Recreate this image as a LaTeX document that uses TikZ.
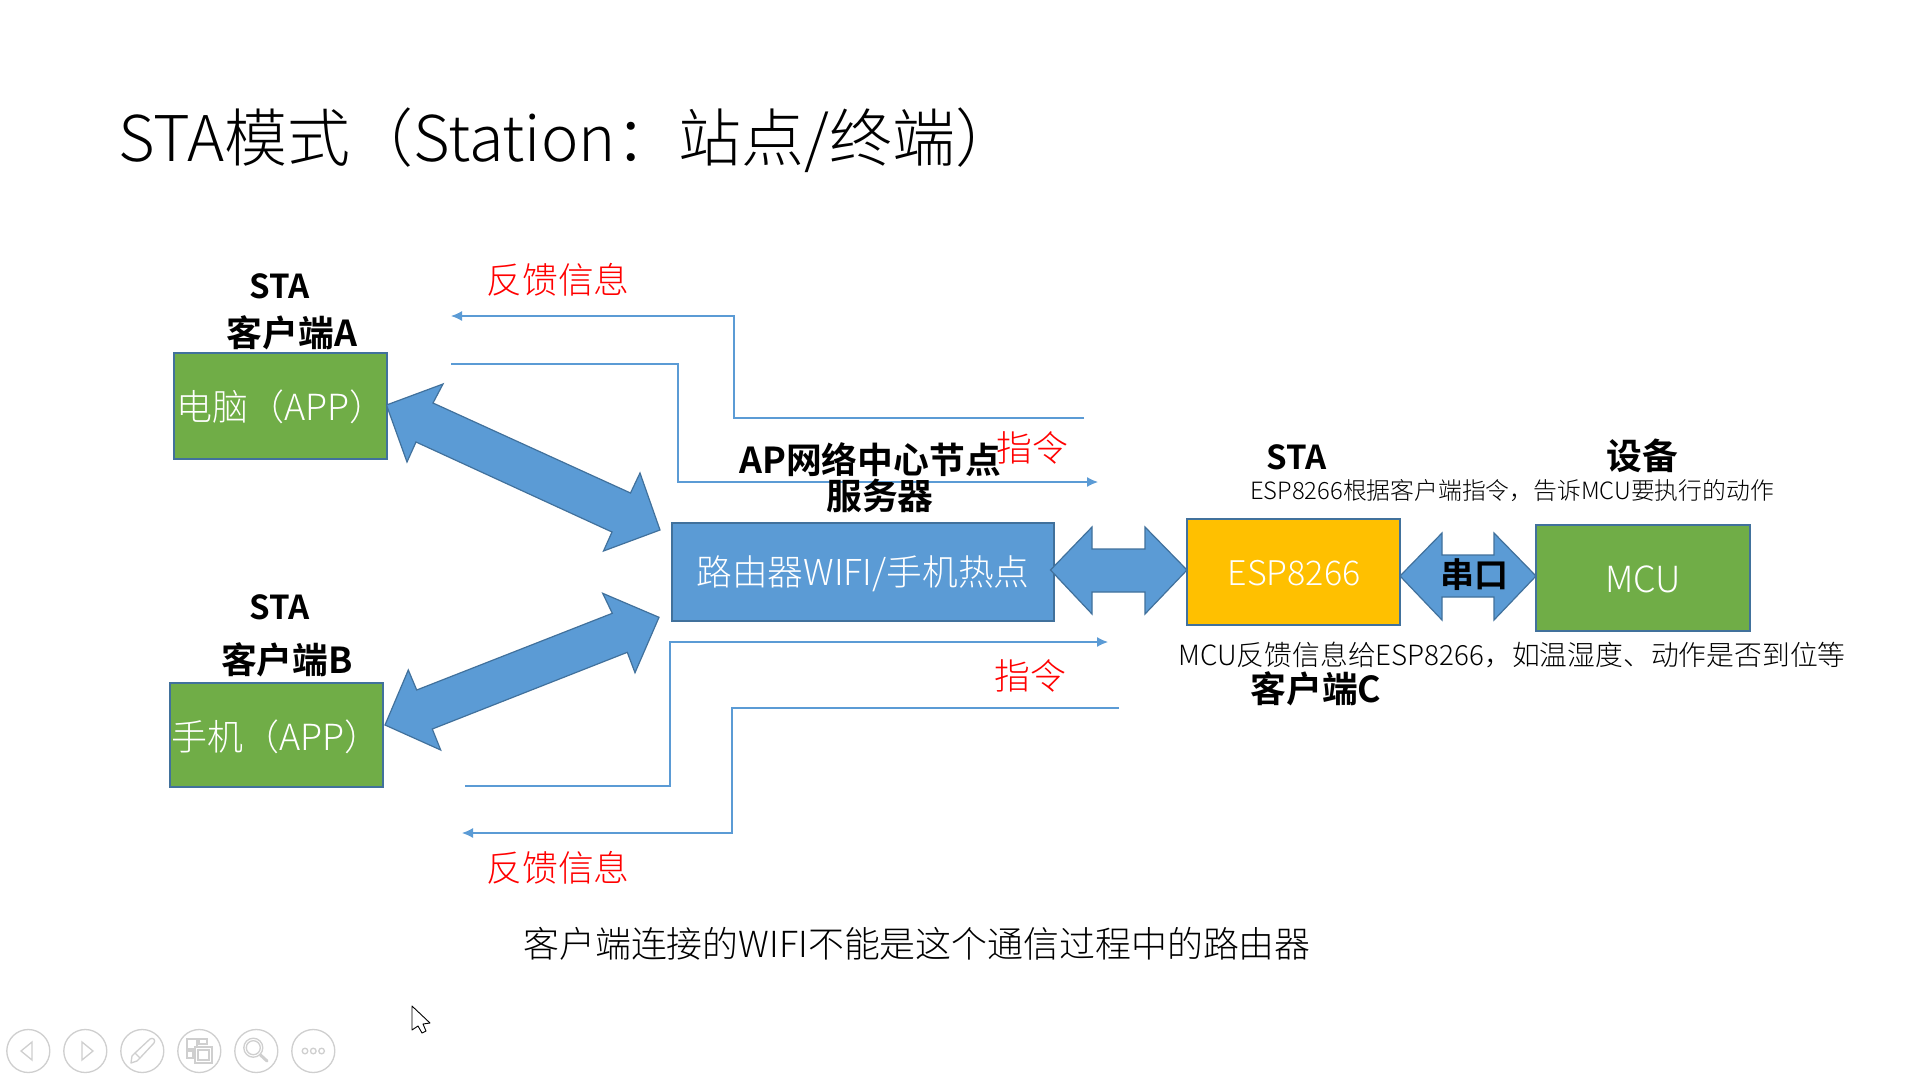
\documentclass[tikz,border=0pt]{standalone}
\usepackage{fontspec}
\setmainfont{Noto Sans CJK SC Light}[BoldFont=Noto Sans CJK SC Bold]
\usetikzlibrary{arrows.meta}
\definecolor{blu}{HTML}{5B9BD5}
\definecolor{edgeblu}{HTML}{41719C}
\definecolor{grn}{HTML}{70AD47}
\definecolor{org}{HTML}{FFC000}
\definecolor{tbar}{HTML}{CFCFCF}
\newcommand{\fs}[1]{\fontsize{#1}{#1}\selectfont}
\tikzset{
 box/.style={draw=edgeblu,line width=2.4pt,inner sep=0pt},
 boxtext/.style={inner sep=0pt,text=white,font=\fs{36}},
 lab/.style={inner sep=0pt,font=\fs{35.8}\bfseries},
 redlab/.style={inner sep=0pt,text=red,font=\fs{35.8}},
 flow/.style={draw=blu,line width=1.3pt},
 flowa/.style={flow,-{Latex[length=11pt,width=10pt]}},
 bigarrow/.style={fill=blu,draw=edgeblu,line width=1.2pt},
 tool/.style={draw=tbar,line width=1.3pt,fill=none},
}
\begin{document}
\begin{tikzpicture}[x=1pt,y=-1pt]
\useasboundingbox (0,0) rectangle (1920,1080);
\fill[white] (0,0) rectangle (1920,1080);
% title
\node[inner sep=0pt,anchor=west,font=\fs{63}] (title) at (118,140) {STA模式（Station：站点/终端）};
% boxes
\node[box,fill=grn,minimum width=213pt,minimum height=106pt] (A) at (280.5,406) {};
\node[boxtext] (Atext) at (281,407) {电脑（APP）};
\node[box,fill=grn,minimum width=213pt,minimum height=104pt] (B) at (276.5,735) {};
\node[boxtext] (Btext) at (276,737) {手机（APP）};
\node[box,fill=blu,minimum width=382pt,minimum height=98pt] (R) at (863,572) {};
\node[boxtext,font=\fs{35.7}] (Rtext) at (863,574) {路由器WIFI/手机热点};
\node[box,fill=org,minimum width=213pt,minimum height=106pt] (E) at (1293.5,572) {};
\node[boxtext,font=\fs{34}] (Etext) at (1294,573) {ESP8266};
\node[box,fill=grn,minimum width=214pt,minimum height=106pt] (M) at (1643,578) {};
\node[boxtext] (Mtext) at (1643,579) {MCU};
% big arrows
\draw[bigarrow] (386.5,405) -- (443,384) -- (433,403) -- (630.5,493) -- (640,473) -- (660,530) -- (603.5,551) -- (612,532) -- (416,442) -- (407,462) -- cycle;
\draw[bigarrow] (385,725) -- (408.3,670) -- (416.7,690) -- (612.3,613.3) -- (602.7,593.3) -- (659,617.3) -- (635,672.7) -- (627.3,652.3) -- (432.3,729) -- (440.7,750) -- cycle;
\draw[bigarrow] (1050.5,570) -- (1092,527) -- (1092,549) -- (1145,549) -- (1145,527) -- (1187,570) -- (1145,614) -- (1145,592) -- (1092,592) -- (1092,614) -- cycle;
\draw[bigarrow] (1400,576) -- (1442,533) -- (1442,555) -- (1494,555) -- (1494,533) -- (1536,576) -- (1494,620) -- (1494,597) -- (1442,597) -- (1442,620) -- cycle;
\node[lab,font=\fs{34}\bfseries] (serial) at (1474,575) {串口};
% flow lines
\coordinate (f1s) at (1084,418); \coordinate (f1e) at (451,316);
\draw[flowa] (f1s) -- (734,418) -- (734,316) -- (f1e);
\coordinate (c1s) at (451,364); \coordinate (c1e) at (1098,482);
\draw[flowa] (c1s) -- (678,364) -- (678,482) -- (c1e);
\coordinate (c2s) at (465,786); \coordinate (c2e) at (1108,642);
\draw[flowa] (c2s) -- (670,786) -- (670,642) -- (c2e);
\coordinate (f2s) at (1119,708); \coordinate (f2e) at (462,833);
\draw[flowa] (f2s) -- (732,708) -- (732,833) -- (f2e);
% labels
\node[redlab] (fb1) at (558,280) {反馈信息};
\node[redlab] (fb2) at (558,868) {反馈信息};
\node[redlab] (cm1) at (1032,448) {指令};
\node[redlab] (cm2) at (1030,676) {指令};
\node[lab,font=\fs{33}\bfseries] (s1) at (280,286) {STA};
\node[lab] (ca) at (292,333) {客户端A};
\node[lab,font=\fs{33}\bfseries] (s2) at (280,607) {STA};
\node[lab] (cb) at (287,660) {客户端B};
\node[lab] (ap) at (870,460) {AP网络中心节点};
\node[lab] (srv) at (880,496) {服务器};
\node[lab,font=\fs{33}\bfseries] (s3) at (1297,457) {STA};
\node[lab] (dev) at (1642,456) {设备};
\node[lab] (cc) at (1316,689) {客户端C};
\node[inner sep=0pt,font=\fs{23.8}] (n1) at (1512,491) {ESP8266根据客户端指令，告诉MCU要执行的动作};
\node[inner sep=0pt,font=\fs{27.8}] (n2) at (1512,655) {MCU反馈信息给ESP8266，如温湿度、动作是否到位等};
\node[inner sep=0pt,font=\fs{35.9}] (n3) at (917,944) {客户端连接的WIFI不能是这个通信过程中的路由器};
% toolbar
\foreach \cx/\nm in {28.3/t1,85.3/t2,142.3/t3,199.3/t4,256.3/t5,313.3/t6}
  \node[circle,tool,minimum size=43pt,inner sep=0pt] (\nm) at (\cx,1051) {};
\draw[tool] (32,1042) -- (21,1051) -- (32,1060) -- cycle;
\draw[tool] (82,1042) -- (93,1051) -- (82,1060) -- cycle;
\draw[tool,line join=round] (135,1053) -- (150,1039) .. controls (153,1037) and (156,1040) .. (154,1043) -- (140,1058) -- cycle;
\draw[tool,line join=round] (135,1053) -- (132,1056) -- (131,1063) -- (137,1061) -- (140,1058);
\draw[tool] (187,1039) rectangle (197,1049);
\draw[tool] (199,1039) rectangle (207,1044);
\draw[tool] (187,1051) rectangle (193,1058);
\draw[tool,fill=white] (195,1047) rectangle (212,1063);
\draw[tool] (198,1050) rectangle (209,1060);
\draw[tool] (253.3,1047.7) circle (9.5pt);
\draw[tool] (253.3,1047.7) circle (7pt);
\draw[tool,line width=3pt,line cap=round] (260.5,1055) -- (267,1061);
\draw[tool] (305,1051) circle (2.8pt);
\draw[tool] (313.3,1051) circle (2.8pt);
\draw[tool] (321.6,1051) circle (2.8pt);
% cursor
\draw[fill=white,draw=black,line width=0.9pt,line join=round] (412,1006) -- (412,1030) -- (418,1026) -- (422,1033) -- (426,1031) -- (423,1024) -- (430,1023) -- cycle;
\end{tikzpicture}
\end{document}
